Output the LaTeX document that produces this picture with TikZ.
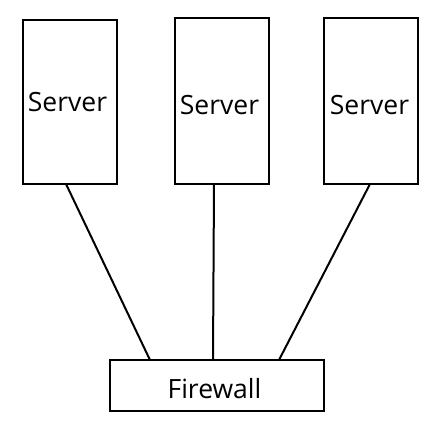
\documentclass[tikz,border=0pt]{standalone}
\usepackage{fontspec}
\setmainfont{Open Sans}
\begin{document}
\begin{tikzpicture}[x=1pt,y=-1pt,
  box/.style={draw=black,line width=2pt,inner sep=0pt,outer sep=0pt,rectangle},
  lbl/.style={font=\fontsize{26.5}{30}\selectfont,anchor=base,inner sep=0pt},
  link/.style={draw=black,line width=2pt}]
\useasboundingbox (0,0) rectangle (432,427);
\node[box,minimum width=94pt,minimum height=164pt] (s1) at (70,102) {};
\node[box,minimum width=94pt,minimum height=166pt] (s2) at (222,101) {};
\node[box,minimum width=94pt,minimum height=166pt] (s3) at (371,101) {};
\node[box,minimum width=214pt,minimum height=51pt] (fw) at (217,385.5) {};
\node[lbl] (t1) at (67.5,112) {Server};
\node[lbl] (t2) at (219.5,115) {Server};
\node[lbl] (t3) at (369.5,115) {Server};
\node[lbl] (t4) at (214.5,399) {Firewall};
\draw[link] ([xshift=-4pt]s1.south) -- ([xshift=-67pt]fw.north);
\draw[link] ([xshift=-8pt]s2.south) -- ([xshift=-4pt]fw.north);
\draw[link] ([xshift=-1pt]s3.south) -- ([xshift=62pt]fw.north);
\end{tikzpicture}
\end{document}
